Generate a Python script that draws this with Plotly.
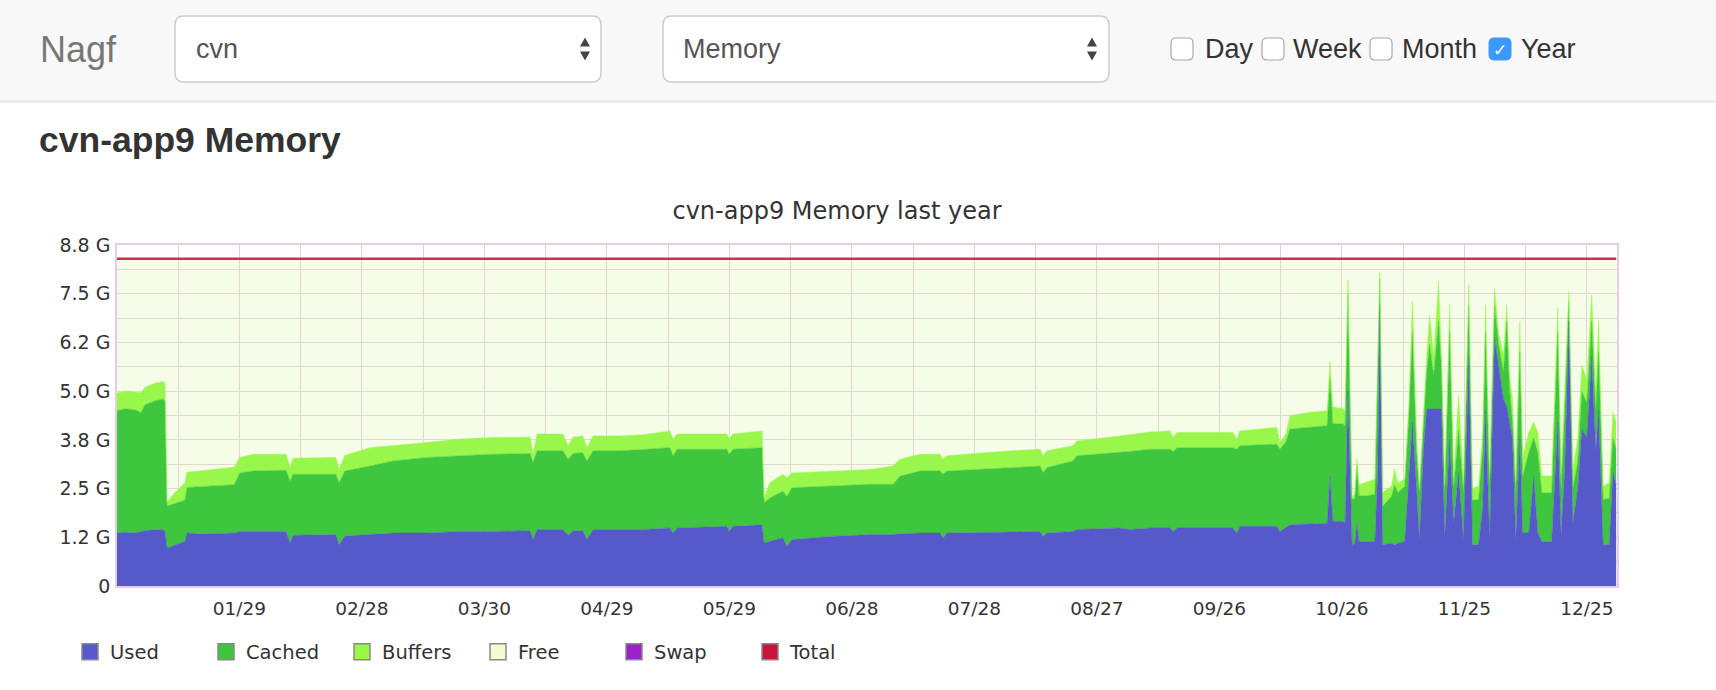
import pandas as pd
import plotly.graph_objects as go

# ---------------- data (GiB) ----------------
START = "2016-12-30"
# day offset from START
DAY = [0, 1.96, 4.41, 5.88, 6.86, 9.31, 11.27, 11.76, 12.25, 14.2, 16.65, 17.14, 20.3, 25.2, 28.7,
       30.1, 33.3, 41.4, 42.4, 43.1, 53.6, 54.4, 55.8, 62.0, 67.6, 75.9, 84.0, 92.1, 101.2, 101.9,
       102.9, 109.2, 110.5, 111.7, 114.1, 115.1, 116.6, 123.2, 128.8, 135.4, 136.2, 137.2, 149.4,
       149.9, 150.9, 158.0, 158.5, 159.9, 163.1, 164.1, 165.3, 174.6, 184.4, 190.1, 191.8, 196.7,
       201.6, 202.3, 203.3, 216.3, 226.1, 226.8, 227.8, 234.1, 235.1, 245.6, 248.1, 253.0, 257.9,
       258.7, 259.6, 273.3, 274.3, 275.0, 284.1, 284.8, 286.3, 287.3, 292.2, 296.4, 297.1, 297.8,
       300.3, 300.8, 301.5, 302.5, 303.2, 303.7, 304.2, 305.6, 308.1, 308.8, 309.3, 310.0, 312.2,
       312.9, 313.7, 315.4, 316.4, 317.3, 318.3, 319.0, 320.0, 320.8, 321.5, 322.5, 323.7, 324.4,
       325.2, 326.4, 327.4, 328.6, 329.8, 331.1, 332.0, 333.5, 334.5, 335.2, 336.2, 337.4, 338.4,
       339.6, 340.4, 341.1, 341.8, 342.6, 343.6, 344.3, 345.8, 347.0, 348.0, 349.0, 351.4, 352.9,
       353.7, 354.6, 355.6, 356.6, 357.8, 358.8, 360.0, 361.2, 362.2, 362.9, 364.0, 365.5, 366.4,
       367.2]
USED = [1.36, 1.38, 1.36, 1.40, 1.42, 1.45, 1.45, 1.40, 0.97, 1.05, 1.15, 1.36, 1.34, 1.35, 1.36,
        1.40, 1.40, 1.40, 1.10, 1.30, 1.32, 1.06, 1.28, 1.32, 1.36, 1.36, 1.40, 1.40, 1.42, 1.19,
        1.45, 1.45, 1.30, 1.42, 1.42, 1.19, 1.45, 1.45, 1.45, 1.49, 1.36, 1.49, 1.53,
        1.40, 1.53, 1.57, 1.10, 1.15, 1.24, 1.02, 1.19, 1.27, 1.32, 1.32, 1.34, 1.36,
        1.36, 1.23, 1.36, 1.38, 1.40, 1.27, 1.36, 1.40, 1.45, 1.49, 1.45, 1.49, 1.49,
        1.40, 1.49, 1.49, 1.36, 1.53, 1.53, 1.40, 1.50, 1.57, 1.59, 1.61, 2.82, 1.66,
        1.66, 1.62, 5.00, 1.06, 1.10, 1.62, 1.14, 1.14, 1.14, 3.00, 7.20, 1.06, 1.10,
        1.06, 1.10, 1.14, 2.91, 4.20, 2.50, 1.19, 3.50, 4.54, 4.54, 4.54, 4.54, 4.54,
        1.27, 3.77, 1.62, 2.91, 1.19, 5.92, 1.06, 1.06, 2.00, 4.50, 1.19, 6.35, 5.66,
        4.80, 4.60, 4.20, 3.77, 1.19, 3.80, 1.36, 1.36, 2.80, 1.36, 1.14, 1.14, 4.20,
        1.30, 3.00, 6.78, 1.62, 2.50, 4.03, 3.80, 5.90, 3.50, 4.50, 1.06, 1.06, 2.91,
        2.60]
CACHED = [3.14, 3.17, 3.16, 3.05, 3.23, 3.30, 3.35, 3.35, 1.08, 1.07, 1.05, 1.17, 1.21, 1.23, 1.24,
          1.50, 1.55, 1.57, 1.59, 1.57, 1.55, 1.59, 1.67, 1.76, 1.85, 1.94, 1.94, 1.98, 1.98, 1.98,
          2.02, 2.02, 1.95, 1.98, 2.00, 2.02, 2.02, 2.02, 2.05, 2.06, 1.98, 2.02, 1.98,
          1.98, 1.98, 1.98, 1.03, 1.11, 1.19, 1.28, 1.33, 1.29, 1.29, 1.29, 1.48, 1.59,
          1.59, 1.64, 1.59, 1.64, 1.68, 1.64, 1.68, 1.81, 1.89, 1.94, 2.00, 2.02, 2.02,
          2.05, 2.06, 2.06, 2.15, 2.07, 2.11, 2.11, 2.20, 2.46, 2.49, 2.50, 2.50, 2.50,
          2.50, 2.49, 2.50, 1.16, 1.15, 1.48, 1.17, 1.17, 1.21, 2.50, 0.70, 0.99, 1.20,
          1.54, 1.30, 1.41, 1.39, 2.30, 1.00, 1.21, 0.70, 0.96, 1.66, 0.86, 2.26, 1.06,
          1.13, 2.73, 0.88, 1.09, 1.21, 1.28, 1.14, 1.16, 1.50, 2.00, 1.31, 0.85, 0.54,
          0.70, 2.20, 0.80, 0.43, 1.21, 2.20, 1.44, 2.07, 1.00, 2.07, 1.25, 1.25, 2.30,
          1.20, 1.50, 0.52, 0.88, 0.70, 0.97, 0.90, 0.90, 1.00, 1.50, 1.16, 1.19, 0.89,
          0.90]
BUFFERS = [0.45, 0.45, 0.46, 0.50, 0.45, 0.45, 0.45, 0.45, 0.10, 0.28, 0.45, 0.39, 0.40, 0.42, 0.45,
           0.40, 0.43, 0.41, 0.36, 0.41, 0.43, 0.35, 0.40, 0.47, 0.39, 0.38, 0.43, 0.43, 0.42, 0.21,
           0.43, 0.43, 0.35, 0.42, 0.43, 0.34, 0.38, 0.38, 0.38, 0.43, 0.43, 0.39, 0.39,
           0.39, 0.39, 0.43, 0.13, 0.39, 0.44, 0.48, 0.38, 0.39, 0.38, 0.47, 0.43, 0.43,
           0.43, 0.38, 0.39, 0.43, 0.43, 0.43, 0.43, 0.39, 0.38, 0.42, 0.43, 0.44, 0.47,
           0.36, 0.39, 0.39, 0.26, 0.38, 0.43, 0.17, 0.20, 0.34, 0.38, 0.39, 0.43, 0.43,
           0.39, 0.39, 0.35, 0.03, 0.15, 0.15, 0.29, 0.34, 0.39, 0.30, 0.15, 0.35, 0.26,
           0.40, 0.25, 0.19, 0.33, 0.80, 0.30, 0.10, 0.30, 0.42, 0.75, 0.50, 1.01, 0.30,
           0.20, 0.71, 0.30, 0.89, 0.30, 0.53, 0.30, 0.34, 0.40, 0.71, 0.40, 0.44, 0.30,
           0.42, 0.41, 0.40, 0.60, 0.30, 0.78, 0.50, 0.51, 0.40, 0.51, 0.43, 0.43, 0.63,
           0.40, 0.50, 0.25, 0.50, 0.60, 0.66, 0.60, 0.67, 0.50, 0.78, 0.34, 0.40, 0.66,
           0.70]
TOTAL = 8.40
SERIES = ["Used", "Cached", "Buffers", "Free", "Swap", "Total"]
COLORS = ["#5659C9", "#3EC63E", "#98F74A", "#F3FDD2", "#9B22C9", "#C8143A"]

Y_TICKS = [0, 1.25, 2.5, 3.75, 5.0, 6.25, 7.5, 8.75]
Y_LABELS = ["0", "1.2 G", "2.5 G", "3.8 G", "5.0 G", "6.2 G", "7.5 G", "8.8 G"]
X_TICK_DAYS = [30, 60, 90, 120, 150, 180, 210, 240, 270, 300, 330, 360]
X_TICK_LABELS = ["01/29", "02/28", "03/30", "04/29", "05/29", "06/28", "07/28", "08/27",
                 "09/26", "10/26", "11/25", "12/25"]
X_MINOR_DAYS = [15, 45, 75, 105, 135, 165, 195, 225, 255, 285, 315, 345]
X_END_DAY = 367.4

# ---------------- derived ----------------
t0 = pd.Timestamp(START)
def to_date(d):
    return t0 + pd.to_timedelta(d, unit="D")

x = [to_date(d) for d in DAY]
free = [TOTAL - u - c - b for u, c, b in zip(USED, CACHED, BUFFERS)]

# page geometry (pixels)
FW, FH = 1716, 690
PL, PR, PT, PB = 117, 1617, 245, 586
PW, PH = PR - PL, PB - PT

def PX(px):
    return (px - PL) / PW

def PY(py):
    return (PB - py) / PH

fig = go.Figure()

GRID = "#E2D0DA"
fig.add_trace(go.Scatter(x=x, y=USED, stackgroup="mem", mode="lines",
                         line=dict(width=0.5, color=COLORS[0]), fillcolor=COLORS[0],
                         showlegend=False, name="Used"))
fig.add_trace(go.Scatter(x=x, y=CACHED, stackgroup="mem", mode="lines",
                         line=dict(width=0.5, color=COLORS[1]), fillcolor=COLORS[1],
                         showlegend=False, name="Cached"))
fig.add_trace(go.Scatter(x=x, y=BUFFERS, stackgroup="mem", mode="lines",
                         line=dict(width=0.5, color=COLORS[2]), fillcolor=COLORS[2],
                         showlegend=False, name="Buffers"))
fig.add_trace(go.Scatter(x=x, y=free, stackgroup="mem", mode="lines",
                         line=dict(width=0), fillcolor="rgba(218,245,165,0.27)",
                         showlegend=False, name="Free"))
fig.add_trace(go.Scatter(x=[x[0], x[-1]], y=[TOTAL, TOTAL], mode="lines",
                         line=dict(width=2.5, color="#D42A4E"), showlegend=False, name="Total"))

# legend entries
for name, col in zip(SERIES, COLORS):
    fig.add_trace(go.Scatter(x=[None], y=[None], mode="markers", name=name,
                             marker=dict(symbol="square", size=16, color=col,
                                         line=dict(width=1.5, color="#8a8a8a"))))

shapes = []
annotations = []

def rrect(x0, y0, x1, y1, r, fill, line_color, lw=1.5):
    pts = (f"M{PX(x0 + r)},{PY(y0)} L{PX(x1 - r)},{PY(y0)} Q{PX(x1)},{PY(y0)} {PX(x1)},{PY(y0 + r)} "
           f"L{PX(x1)},{PY(y1 - r)} Q{PX(x1)},{PY(y1)} {PX(x1 - r)},{PY(y1)} "
           f"L{PX(x0 + r)},{PY(y1)} Q{PX(x0)},{PY(y1)} {PX(x0)},{PY(y1 - r)} "
           f"L{PX(x0)},{PY(y0 + r)} Q{PX(x0)},{PY(y0)} {PX(x0 + r)},{PY(y0)} Z")
    return dict(type="path", xref="paper", yref="paper", path=pts, fillcolor=fill,
                line=dict(color=line_color, width=lw), layer="above")

def tri(cx, cy, w, h, up, color="#444"):
    if up:
        p = f"M{PX(cx - w/2)},{PY(cy + h/2)} L{PX(cx + w/2)},{PY(cy + h/2)} L{PX(cx)},{PY(cy - h/2)} Z"
    else:
        p = f"M{PX(cx - w/2)},{PY(cy - h/2)} L{PX(cx + w/2)},{PY(cy - h/2)} L{PX(cx)},{PY(cy + h/2)} Z"
    return dict(type="path", xref="paper", yref="paper", path=p, fillcolor=color,
                line=dict(width=0), layer="above")

def text(px, py, s, size, color, family="Liberation Sans", anchor="left", bold=False):
    if bold:
        s = f"<b>{s}</b>"
    annotations.append(dict(x=PX(px), y=PY(py), xref="paper", yref="paper", text=s,
                            showarrow=False, xanchor=anchor, yanchor="middle",
                            font=dict(size=size, color=color, family=family)))

# header bar
shapes.append(dict(type="rect", xref="paper", yref="paper", x0=PX(0), x1=PX(FW), y0=PY(0), y1=PY(101),
                   fillcolor="#F8F8F8", line=dict(width=0), layer="below"))
shapes.append(dict(type="line", xref="paper", yref="paper", x0=PX(0), x1=PX(FW), y0=PY(101.5), y1=PY(101.5),
                   line=dict(color="#E5E5E5", width=2), layer="below"))

text(38, 49, "Nagf", 36, "#777777")
# selects
shapes.append(rrect(175, 16, 601, 82, 9, "#FFFFFF", "#CCCCCC"))
shapes.append(rrect(663, 16, 1109, 82, 9, "#FFFFFF", "#CCCCCC"))
text(194, 49, "cvn", 27, "#555555")
text(681, 49, "Memory", 27, "#555555")
for cx in (585, 1092):
    shapes.append(tri(cx, 42, 10, 9, True))
    shapes.append(tri(cx, 56, 10, 9, False))
# checkboxes
for bx, lab, tx in ((1171, "Day", 1203), (1262, "Week", 1291), (1370, "Month", 1400), (1489, "Year", 1519)):
    if lab == "Year":
        shapes.append(rrect(bx, 38, bx + 22, 60, 5, "#3B99FC", "#3B99FC", 1))
        text(bx + 11, 50, "✓", 17, "#FFFFFF", family="DejaVu Sans", anchor="center")
    else:
        shapes.append(rrect(bx, 38, bx + 22, 60, 5, "#FFFFFF", "#A9A9A9", 1.2))
    text(tx, 49, lab, 27, "#333333")

# heading
text(37, 140, "cvn-app9 Memory", 35.5, "#333333", bold=True)

fig.update_layout(
    width=FW, height=FH,
    margin=dict(l=PL, r=FW - PR, t=PT, b=FH - PB, autoexpand=False),
    paper_bgcolor="#FFFFFF", plot_bgcolor="#FFFFFF",
    title=dict(text="cvn-app9 Memory last year", x=837 / FW, xanchor="center",
               y=1 - 211 / FH, yanchor="middle", yref="container",
               font=dict(family="DejaVu Sans", size=24, color="#333333")),
    xaxis=dict(type="date", range=[to_date(0), to_date(X_END_DAY)],
               tickmode="array", tickvals=[to_date(d) for d in X_TICK_DAYS], ticktext=X_TICK_LABELS,
               showgrid=True, gridcolor=GRID, gridwidth=1,
               minor=dict(tickmode="array", tickvals=[to_date(d) for d in X_MINOR_DAYS],
                          showgrid=True, gridcolor=GRID, gridwidth=1, ticks=""),
               showline=True, linecolor="#E6CBE6", linewidth=1.5, mirror=True,
               ticks="", ticklabelstandoff=5, zeroline=False,
               tickfont=dict(family="DejaVu Sans", size=18.5, color="#333333")),
    yaxis=dict(range=[0, 8.75], tickmode="array", tickvals=Y_TICKS, ticktext=Y_LABELS,
               showgrid=True, gridcolor=GRID, gridwidth=1,
               minor=dict(dtick=0.625, tick0=0, showgrid=True, gridcolor=GRID, gridwidth=1, ticks=""),
               showline=True, linecolor="#E6CBE6", linewidth=1.5, mirror=True,
               ticks="", ticklabelstandoff=1, zeroline=False,
               tickfont=dict(family="DejaVu Sans", size=19, color="#333333")),
    legend=dict(orientation="h", x=PX(70), xanchor="left", y=PY(652), yanchor="middle",
                font=dict(family="DejaVu Sans", size=19.5, color="#333333"),
                entrywidthmode="pixels", entrywidth=91, itemsizing="trace",
                bgcolor="rgba(0,0,0,0)", traceorder="normal"),
    shapes=shapes, annotations=annotations,
    showlegend=True, hovermode=False,
)

fig.write_html("out.html", config={"displayModeBar": False},
               post_script="document.body.style.margin='0px';")
